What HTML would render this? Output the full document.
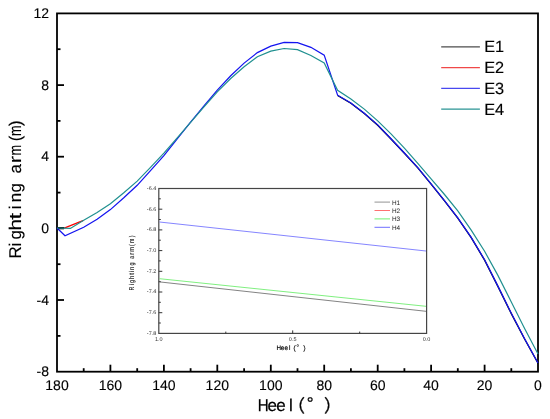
<!DOCTYPE html>
<html><head><meta charset="utf-8"><style>
html,body{margin:0;padding:0;background:#fff;}
svg{display:block;}
text{text-rendering:geometricPrecision;}
.tk{font-family:"Liberation Sans",Arial,sans-serif;font-size:14px;fill:#000;stroke:#000;stroke-width:0.12px;}
.lg{font-family:"Liberation Sans",Arial,sans-serif;font-size:16.3px;fill:#000;stroke:#000;stroke-width:0.15px;}
.itk{font-family:"Liberation Sans",Arial,sans-serif;font-size:5.5px;fill:#333;}
.ilg{font-family:"Liberation Sans",Arial,sans-serif;font-size:6.4px;fill:#222;}
.ititle{font-family:"Liberation Sans","WenQuanYi Zen Hei",sans-serif;font-size:6.3px;fill:#000;stroke:#000;stroke-width:0.22px;}
.icjk{font-family:"Liberation Sans","Noto Sans CJK SC",sans-serif;font-size:6.6px;}
.title{font-family:"Liberation Sans","WenQuanYi Zen Hei",sans-serif;font-size:17px;fill:#000;stroke:#000;stroke-width:0.25px;}
.cjk{font-family:"Liberation Sans","Noto Sans CJK SC",sans-serif;font-size:17.5px;}
</style></head><body>
<svg width="550" height="419" viewBox="0 0 550 419">
<rect width="550" height="419" fill="#fff"/>
<rect x="57.00" y="13.40" width="481.00" height="358.30" fill="none" stroke="#000" stroke-width="1.8"/>
<line x1="57" y1="335.9" x2="60.5" y2="335.9" stroke="#000" stroke-width="1.8"/>
<line x1="57" y1="300.0" x2="64.0" y2="300.0" stroke="#000" stroke-width="1.8"/>
<line x1="57" y1="264.2" x2="60.5" y2="264.2" stroke="#000" stroke-width="1.8"/>
<line x1="57" y1="228.4" x2="64.0" y2="228.4" stroke="#000" stroke-width="1.8"/>
<line x1="57" y1="192.6" x2="60.5" y2="192.6" stroke="#000" stroke-width="1.8"/>
<line x1="57" y1="156.7" x2="64.0" y2="156.7" stroke="#000" stroke-width="1.8"/>
<line x1="57" y1="120.9" x2="60.5" y2="120.9" stroke="#000" stroke-width="1.8"/>
<line x1="57" y1="85.1" x2="64.0" y2="85.1" stroke="#000" stroke-width="1.8"/>
<line x1="57" y1="49.2" x2="60.5" y2="49.2" stroke="#000" stroke-width="1.8"/>
<text x="49" y="376.2" text-anchor="end" class="tk">-8</text>
<text x="49" y="304.5" text-anchor="end" class="tk">-4</text>
<text x="49" y="232.9" text-anchor="end" class="tk">0</text>
<text x="49" y="161.2" text-anchor="end" class="tk">4</text>
<text x="49" y="89.6" text-anchor="end" class="tk">8</text>
<text x="49" y="17.9" text-anchor="end" class="tk">12</text>
<line x1="511.3" y1="371.70" x2="511.3" y2="368.20" stroke="#000" stroke-width="1.8"/>
<line x1="484.6" y1="371.70" x2="484.6" y2="364.70" stroke="#000" stroke-width="1.8"/>
<line x1="457.8" y1="371.70" x2="457.8" y2="368.20" stroke="#000" stroke-width="1.8"/>
<line x1="431.1" y1="371.70" x2="431.1" y2="364.70" stroke="#000" stroke-width="1.8"/>
<line x1="404.4" y1="371.70" x2="404.4" y2="368.20" stroke="#000" stroke-width="1.8"/>
<line x1="377.7" y1="371.70" x2="377.7" y2="364.70" stroke="#000" stroke-width="1.8"/>
<line x1="350.9" y1="371.70" x2="350.9" y2="368.20" stroke="#000" stroke-width="1.8"/>
<line x1="324.2" y1="371.70" x2="324.2" y2="364.70" stroke="#000" stroke-width="1.8"/>
<line x1="297.5" y1="371.70" x2="297.5" y2="368.20" stroke="#000" stroke-width="1.8"/>
<line x1="270.8" y1="371.70" x2="270.8" y2="364.70" stroke="#000" stroke-width="1.8"/>
<line x1="244.1" y1="371.70" x2="244.1" y2="368.20" stroke="#000" stroke-width="1.8"/>
<line x1="217.3" y1="371.70" x2="217.3" y2="364.70" stroke="#000" stroke-width="1.8"/>
<line x1="190.6" y1="371.70" x2="190.6" y2="368.20" stroke="#000" stroke-width="1.8"/>
<line x1="163.9" y1="371.70" x2="163.9" y2="364.70" stroke="#000" stroke-width="1.8"/>
<line x1="137.2" y1="371.70" x2="137.2" y2="368.20" stroke="#000" stroke-width="1.8"/>
<line x1="110.4" y1="371.70" x2="110.4" y2="364.70" stroke="#000" stroke-width="1.8"/>
<line x1="83.7" y1="371.70" x2="83.7" y2="368.20" stroke="#000" stroke-width="1.8"/>
<text x="538.0" y="390" text-anchor="middle" class="tk">0</text>
<text x="484.6" y="390" text-anchor="middle" class="tk">20</text>
<text x="431.1" y="390" text-anchor="middle" class="tk">40</text>
<text x="377.7" y="390" text-anchor="middle" class="tk">60</text>
<text x="324.2" y="390" text-anchor="middle" class="tk">80</text>
<text x="270.8" y="390" text-anchor="middle" class="tk">100</text>
<text x="217.3" y="390" text-anchor="middle" class="tk">120</text>
<text x="163.9" y="390" text-anchor="middle" class="tk">140</text>
<text x="110.4" y="390" text-anchor="middle" class="tk">160</text>
<text x="57.0" y="390" text-anchor="middle" class="tk">180</text>
<polyline points="57.0,227.9 64.6,227.9" fill="none" stroke="#000" stroke-width="1.6"/>
<polyline points="337.6,95.5 350.9,103.3 364.3,113.5 377.7,125.2 391.0,139.0 404.4,153.3 417.8,167.9 431.1,184.1 444.5,200.9 457.8,218.2 471.2,237.7 484.6,260.1 497.9,286.4 511.3,313.6 524.6,339.0 538.0,363.3" fill="none" stroke="#000" stroke-width="1.3"/>
<polyline points="64.8,227.8 79.8,221.9 83.0,220.6" fill="none" stroke="#f00" stroke-width="1.3"/>
<polyline points="57.0,228.0 65.0,235.8 83.7,227.2 97.1,219.3 110.4,209.6 123.8,197.8 137.2,185.3 150.5,170.6 163.9,155.7 177.2,138.8 190.6,122.1 204.0,105.8 217.3,90.1 230.7,75.7 244.1,63.1 257.4,52.6 270.8,46.1 284.1,42.4 297.5,42.6 310.9,47.3 324.2,55.1 337.6,95.2 350.9,103.0 364.3,113.2 377.7,124.9 391.0,138.7 404.4,153.0 417.8,167.6 431.1,183.8 444.5,200.6 457.8,217.9 471.2,237.4 484.6,259.8 497.9,286.1 511.3,313.3 524.6,338.7 538.0,363.0" fill="none" stroke="#1414f0" stroke-width="1.25"/>
<polyline points="57.0,228.0 70.4,228.4 83.7,220.3 97.1,212.5 110.4,203.7 123.8,192.8 137.2,181.1 150.5,167.4 163.9,153.1 177.2,137.9 190.6,122.3 204.0,106.8 217.3,91.8 230.7,78.5 244.1,66.7 257.4,56.8 270.8,51.2 284.1,48.5 297.5,49.6 310.9,55.5 324.2,62.9 337.6,90.3 350.9,98.9 364.3,109.1 377.7,120.9 391.0,133.9 404.4,148.2 417.8,163.4 431.1,178.8 444.5,194.5 457.8,210.9 471.2,230.2 484.6,251.3 497.9,275.4 511.3,302.0 524.6,328.5 538.0,354.0" fill="none" stroke="#209090" stroke-width="1.2"/>
<line x1="441.2" y1="46.8" x2="479.9" y2="46.8" stroke="#4c4c4c" stroke-width="1.3"/>
<text x="484.2" y="52.4" class="lg">E1</text>
<line x1="441.2" y1="67.6" x2="479.9" y2="67.6" stroke="#f04848" stroke-width="1.3"/>
<text x="484.2" y="73.2" class="lg">E2</text>
<line x1="441.2" y1="88.4" x2="479.9" y2="88.4" stroke="#4848f0" stroke-width="1.3"/>
<text x="484.2" y="94.0" class="lg">E3</text>
<line x1="441.2" y1="109.2" x2="479.9" y2="109.2" stroke="#2a9494" stroke-width="1.3"/>
<text x="484.2" y="114.8" class="lg">E4</text>
<rect x="158.8" y="188.5" width="267.8" height="144.9" fill="#fff" stroke="#454545" stroke-width="1.2"/>
<text x="156.3" y="189.8" text-anchor="end" class="itk">-6.4</text>
<line x1="158.8" y1="198.8" x2="160.8" y2="198.8" stroke="#333" stroke-width="1"/>
<line x1="158.8" y1="209.2" x2="162.3" y2="209.2" stroke="#333" stroke-width="1"/>
<text x="156.3" y="210.5" text-anchor="end" class="itk">-6.6</text>
<line x1="158.8" y1="219.5" x2="160.8" y2="219.5" stroke="#333" stroke-width="1"/>
<line x1="158.8" y1="229.9" x2="162.3" y2="229.9" stroke="#333" stroke-width="1"/>
<text x="156.3" y="231.2" text-anchor="end" class="itk">-6.8</text>
<line x1="158.8" y1="240.2" x2="160.8" y2="240.2" stroke="#333" stroke-width="1"/>
<line x1="158.8" y1="250.6" x2="162.3" y2="250.6" stroke="#333" stroke-width="1"/>
<text x="156.3" y="251.9" text-anchor="end" class="itk">-7.0</text>
<line x1="158.8" y1="260.9" x2="160.8" y2="260.9" stroke="#333" stroke-width="1"/>
<line x1="158.8" y1="271.3" x2="162.3" y2="271.3" stroke="#333" stroke-width="1"/>
<text x="156.3" y="272.6" text-anchor="end" class="itk">-7.2</text>
<line x1="158.8" y1="281.7" x2="160.8" y2="281.7" stroke="#333" stroke-width="1"/>
<line x1="158.8" y1="292.0" x2="162.3" y2="292.0" stroke="#333" stroke-width="1"/>
<text x="156.3" y="293.3" text-anchor="end" class="itk">-7.4</text>
<line x1="158.8" y1="302.3" x2="160.8" y2="302.3" stroke="#333" stroke-width="1"/>
<line x1="158.8" y1="312.7" x2="162.3" y2="312.7" stroke="#333" stroke-width="1"/>
<text x="156.3" y="314.0" text-anchor="end" class="itk">-7.6</text>
<line x1="158.8" y1="323.0" x2="160.8" y2="323.0" stroke="#333" stroke-width="1"/>
<text x="156.3" y="334.7" text-anchor="end" class="itk">-7.8</text>
<line x1="359.7" y1="333.4" x2="359.7" y2="331.6" stroke="#333" stroke-width="1"/>
<line x1="292.7" y1="333.4" x2="292.7" y2="330.4" stroke="#333" stroke-width="1"/>
<line x1="225.8" y1="333.4" x2="225.8" y2="331.6" stroke="#333" stroke-width="1"/>
<text x="158.8" y="341" text-anchor="middle" class="itk">1.0</text>
<text x="292.7" y="341" text-anchor="middle" class="itk">0.5</text>
<text x="426.6" y="341" text-anchor="middle" class="itk">0.0</text>
<line x1="159.5" y1="281.9" x2="426" y2="311.3" stroke="#5a5a5a" stroke-width="0.75"/>
<line x1="159.5" y1="278.7" x2="426" y2="306.3" stroke="#55ea55" stroke-width="0.75"/>
<line x1="159.5" y1="222" x2="426" y2="251" stroke="#5c5cff" stroke-width="0.75"/>
<line x1="374.5" y1="202.1" x2="390" y2="202.1" stroke="#888" stroke-width="0.9"/>
<text x="392" y="204.5" class="ilg">H1</text>
<line x1="374.5" y1="210.5" x2="390" y2="210.5" stroke="#ff6060" stroke-width="0.9"/>
<text x="392" y="212.9" class="ilg">H2</text>
<line x1="374.5" y1="218.9" x2="390" y2="218.9" stroke="#60ee60" stroke-width="0.9"/>
<text x="392" y="221.3" class="ilg">H3</text>
<line x1="374.5" y1="227.3" x2="390" y2="227.3" stroke="#6060ff" stroke-width="0.9"/>
<text x="392" y="229.7" class="ilg">H4</text>
<text y="349.8" transform="scale(0.95,1)" class="ititle" style="font-size:6.6px;stroke-width:0.18px"><tspan x="290.95 295.58 299.47 304.11">Heel</tspan><tspan x="304.84" y="350.6" class="icjk">（</tspan><tspan x="311.89" y="349.9" style="font-size:8px;stroke-width:0.1px">°</tspan><tspan x="319.16" y="350.6" class="icjk">）</tspan></text>
<text transform="translate(134.4,290.4) rotate(-90) scale(0.76,1)" class="ititle" style="stroke-width:0.08px;font-size:7.0px;letter-spacing:1.57px">Righting arm(m)</text>
<text y="410.6" class="title"><tspan x="257.8" textLength="10.9" lengthAdjust="spacingAndGlyphs">H</tspan><tspan x="267.4 276.3 289">eel</tspan><tspan x="287.5" y="412.2" class="cjk">（</tspan><tspan x="306.7" y="409.4">°</tspan><tspan x="324" y="412.2" class="cjk">）</tspan></text>
<text transform="translate(21.2,0) rotate(-90)" class="title" style="stroke-width:0.1px"><tspan x="-258.5 -246.5 -239.6">Rig</tspan><tspan x="-230.6" textLength="11.6" lengthAdjust="spacingAndGlyphs">h</tspan><tspan x="-219.8" textLength="7.0" lengthAdjust="spacingAndGlyphs">t</tspan><tspan x="-209.2 -202.2 -192.5 -183 -173.6">ing a</tspan><tspan x="-163.3" textLength="7.3" lengthAdjust="spacingAndGlyphs">r</tspan><tspan x="-155.5" textLength="10.6" lengthAdjust="spacingAndGlyphs">m</tspan><tspan x="-141.3">(</tspan><tspan x="-136" textLength="10.6" lengthAdjust="spacingAndGlyphs">m</tspan><tspan x="-126">)</tspan></text>
</svg>
</body></html>
